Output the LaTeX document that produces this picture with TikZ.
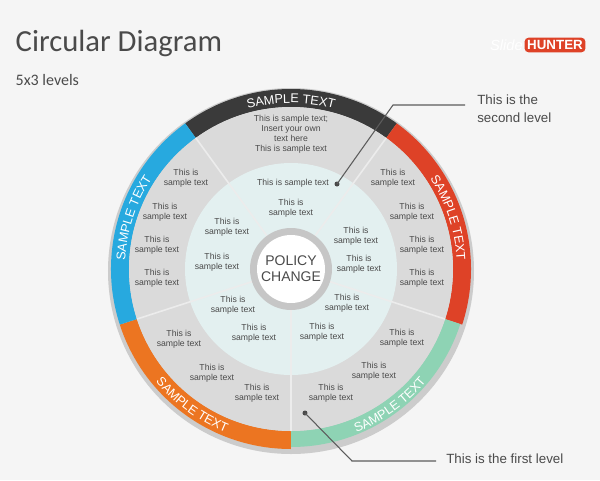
\documentclass[tikz,border=0pt]{standalone}
\usepackage{fontspec}
\setmainfont{Liberation Sans}
\newfontfamily\titlefont{Carlito}
\usetikzlibrary{decorations.text}
\definecolor{bandDark}{HTML}{3A3A3A}
\definecolor{bandRed}{HTML}{DE4227}
\definecolor{bandTeal}{HTML}{8ED3B4}
\definecolor{bandOrange}{HTML}{EC7521}
\definecolor{bandBlue}{HTML}{27A9DF}
\definecolor{levelGray}{HTML}{DADADA}
\definecolor{levelIce}{HTML}{E3F0F0}
\definecolor{textGray}{HTML}{4A4A4A}
\begin{document}
\begin{tikzpicture}[x=0.75pt, y=0.75pt, font=\fontsize{6.5}{7.5}\selectfont]
    \tikzstyle{sample_text} = [align=center, text=textGray, inner sep=0pt]
    \tikzstyle{band_text} = [decorate, decoration={text along path, text align=center, text color=white,
        text={|\fontsize{9.5}{9.5}\selectfont|SAMPLE TEXT}}]
    \tikzstyle{callout} = [draw=textGray!90, thick]
    \tikzstyle{callout_text} = [anchor=north west, align=left, text=textGray, font=\fontsize{10}{13}\selectfont, inner sep=0pt]

    % page
    \fill[gray!8] (-291,-211) rectangle (309,269);
    \useasboundingbox (-291,-211) rectangle (309,269);
    \node[anchor=west, text=textGray, font=\titlefont\fontsize{23}{23}\selectfont] (title) at (-280,226) {Circular Diagram};
    \node[anchor=west, text=textGray, font=\titlefont\fontsize{12}{12}\selectfont] (subtitle) at (-280,189) {5x3 levels};
    \node[fill=bandRed, text=white, font=\bfseries\fontsize{10}{10}\selectfont, rounded corners=3pt, inner sep=2pt] (logo) at (264,224) {HUNTER};
    \node[anchor=east, text=white, font=\itshape\fontsize{11}{11}\selectfont, inner sep=1pt] (slide) at (logo.west) {Slide};

    % coloured bands
    \fill[gray!40] (0,-2) circle (183);
    \fill[bandDark] (126:180) arc (126:54:180) -- (54:162) arc (54:126:162) -- cycle;
    \fill[bandRed] (54:180) arc (54:-18:180) -- (-18:162) arc (-18:54:162) -- cycle;
    \fill[bandTeal] (-18:178) arc (-18:-90:178) -- (-90:162) arc (-90:-18:162) -- cycle;
    \fill[bandOrange] (-90:180) arc (-90:-162:180) -- (-162:162) arc (-162:-90:162) -- cycle;
    \fill[bandBlue] (-162:180) arc (-162:-234:180) -- (126:162) arc (126:198:162) -- cycle;

    % first and second level
    \fill[levelGray] (0,0) circle (162);
    \fill[levelIce] (0,0) circle (106);
    \foreach \a in {126,54,-18,-90,-162}
        \draw[gray!15, line width=1.2pt] (0,0) -- (\a:162);
    \fill[gray!45] (0,0) circle (41);
    \fill[white] (0,0) circle (34);
    \node[text=textGray, align=center, font=\fontsize{10.5}{12}\selectfont] (policy) at (0,0) {POLICY\\CHANGE};

    % band labels
    \path[band_text] (111:166) arc (111:69:166);
    \path[band_text] (39:166) arc (39:-3:166);
    \path[band_text] (-75:176) arc (-75:-33:176);
    \path[band_text] (-147:176) arc (-147:-105:176);
    \path[band_text] (183:166) arc (183:141:166);

    % first level texts
    \node[sample_text] (t0) at (0,135) {This is sample text;\\Insert your own\\text here\\This is sample text};
    \node[sample_text] (b1) at (-105,91) {This is\\sample text};
    \node[sample_text] (b2) at (-126,57) {This is\\sample text};
    \node[sample_text] (b3) at (-134,24) {This is\\sample text};
    \node[sample_text] (b4) at (-134,-9) {This is\\sample text};
    \node[sample_text] (r1) at (102,91) {This is\\sample text};
    \node[sample_text] (r2) at (121,57) {This is\\sample text};
    \node[sample_text] (r3) at (131,24) {This is\\sample text};
    \node[sample_text] (r4) at (131,-9) {This is\\sample text};
    \node[sample_text] (g1) at (111,-69) {This is\\sample text};
    \node[sample_text] (g2) at (83,-102) {This is\\sample text};
    \node[sample_text] (g3) at (40,-124) {This is\\sample text};
    \node[sample_text] (o1) at (-112,-70) {This is\\sample text};
    \node[sample_text] (o2) at (-79,-104) {This is\\sample text};
    \node[sample_text] (o3) at (-34,-124) {This is\\sample text};

    % second level texts
    \node[sample_text] (i0) at (2,86) {This is sample text};
    \node[sample_text] (i1) at (0,61) {This is\\sample text};
    \node[sample_text] (i2) at (-64,42) {This is\\sample text};
    \node[sample_text] (i3) at (-74,7) {This is\\sample text};
    \node[sample_text] (i4) at (65,33) {This is\\sample text};
    \node[sample_text] (i5) at (68,5) {This is\\sample text};
    \node[sample_text] (i6) at (-58,-36) {This is\\sample text};
    \node[sample_text] (i7) at (-37,-64) {This is\\sample text};
    \node[sample_text] (i8) at (56,-34) {This is\\sample text};
    \node[sample_text] (i9) at (31,-63) {This is\\sample text};

    % callouts
    \fill[textGray] (46,85) circle (2.5) coordinate (dot2);
    \coordinate (elbow2) at (102,164);
    \coordinate (end2) at (174,164);
    \draw[callout] (dot2) -- (elbow2) -- (end2);
    \node[callout_text] (lbl2) at (186,174) {This is the\\second level};
    \fill[textGray] (14,-144) circle (2.5) coordinate (dot1);
    \coordinate (elbow1) at (61,-192);
    \coordinate (end1) at (145,-192);
    \draw[callout] (dot1) -- (elbow1) -- (end1);
    \node[callout_text, anchor=west] (lbl1) at (155,-190) {This is the first level};
\end{tikzpicture}
\end{document}
